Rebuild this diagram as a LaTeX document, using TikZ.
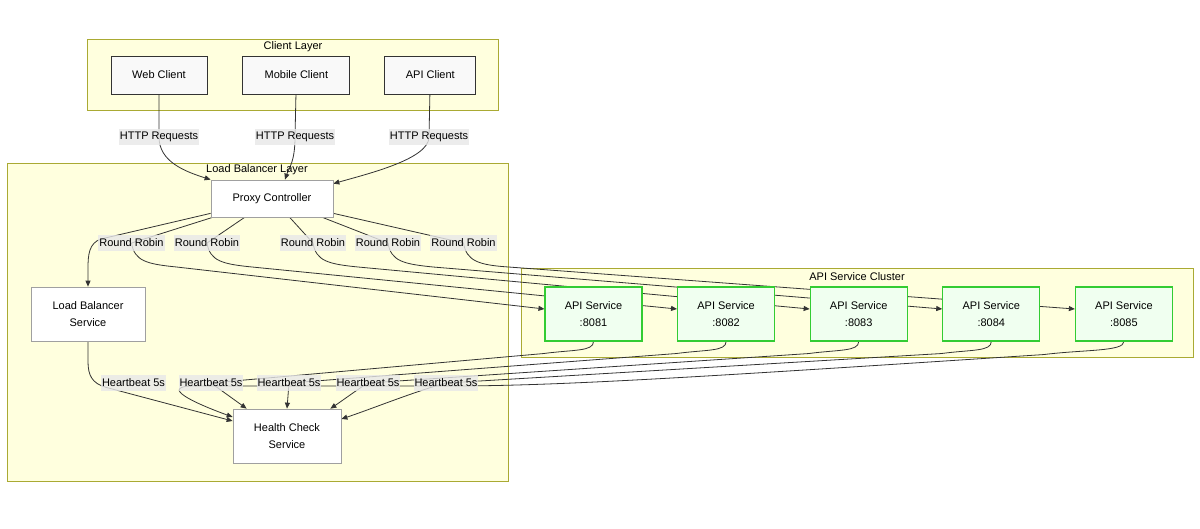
\documentclass[tikz,border=0pt]{standalone}
\usepackage{fontspec}
\setmainfont{Liberation Sans}
\usetikzlibrary{arrows.meta, positioning}
\definecolor{clusterfill}{HTML}{FFFFDE}
\definecolor{clusterline}{HTML}{AAAA33}
\definecolor{clientfill}{HTML}{F9F9F9}
\definecolor{edgegray}{HTML}{333333}
\definecolor{boxline}{HTML}{A0A0A0}
\definecolor{apifill}{HTML}{F0FFF0}
\definecolor{apiline}{HTML}{33CC33}
\definecolor{lblgray}{HTML}{E8E8E8}
\pgfdeclarelayer{bg}
\pgfdeclarelayer{edges}
\pgfsetlayers{bg,edges,main}

\begin{document}
\begin{tikzpicture}[x=1pt, y=-1pt,
        font=\fontsize{11}{16.5}\selectfont,
        cluster/.style={rectangle, draw=clusterline, fill=clusterfill, line width=0.8pt, inner sep=0pt},
        client/.style={rectangle, draw=edgegray, fill=clientfill, line width=0.9pt, inner sep=0pt, minimum height=38pt},
        service/.style={rectangle, draw=boxline, fill=white, line width=0.7pt, align=center, inner sep=0pt, minimum height=54pt},
        api/.style={rectangle, draw=apiline, fill=apifill, line width=1.1pt, align=center, inner sep=0pt, minimum width=97pt, minimum height=54pt},
        lbl/.style={fill=lblgray, fill opacity=0.8, text opacity=1, inner xsep=1pt, inner ysep=0pt, minimum height=16pt},
        arrow/.style={-{Triangle[length=6pt, width=5pt]}, draw=edgegray, line width=0.8pt},
        node distance=35pt
        ]
        \useasboundingbox (0,0) rectangle (1200,529);

        % Groups
        \begin{pgfonlayer}{bg}
        \fill[white] (0,0) rectangle (1200,529);
        \node (clientlayer) [cluster, minimum width=411pt, minimum height=71pt] at (292.5,74.5) {};
        \node (lblayer) [cluster, minimum width=501pt, minimum height=318pt] at (257.5,322) {};
        \node (apicluster) [cluster, minimum width=672pt, minimum height=89pt] at (857,312.5) {};
        \end{pgfonlayer}
        \node (clienttitle) at (293,47) {Client Layer};
        \node (lbtitle) at (257,170) {Load Balancer Layer};
        \node (apititle) at (857,277) {API Service Cluster};

        % Nodes
        \node (web) [client, minimum width=96pt] at (159,75) {Web Client};
        \node (mobile) [client, minimum width=107pt, right=of web] {Mobile Client};
        \node (apiclient) [client, minimum width=91pt, right=34pt of mobile] {API Client};
        \node (proxy) [service, minimum width=122pt, minimum height=37pt] at (272,198.5) {Proxy Controller};
        \node (lbservice) [service, minimum width=114pt] at (88,314) {Load Balancer\\Service};
        \node (health) [service, minimum width=108pt] at (287,436) {Health Check\\Service};
        \node (api1) [api] at (593.5,314) {API Service\\:8081};
        \node (api2) [api, right=34.5pt of api1] {API Service\\:8082};
        \node (api3) [api, right=34.5pt of api2] {API Service\\:8083};
        \node (api4) [api, right=34.5pt of api3] {API Service\\:8084};
        \node (api5) [api, right=34.5pt of api4] {API Service\\:8085};

        % Labels
        \node (http1) [lbl] at (159,137) {HTTP Requests};
        \node (http2) [lbl] at (295,137) {HTTP Requests};
        \node (http3) [lbl] at (429,137) {HTTP Requests};
        \node (rr1) [lbl] at (131.5,243) {Round Robin};
        \node (rr2) [lbl] at (207,243) {Round Robin};
        \node (rr3) [lbl] at (313,243) {Round Robin};
        \node (rr4) [lbl] at (388,243) {Round Robin};
        \node (rr5) [lbl] at (463.5,243) {Round Robin};
        \node (hb1) [lbl] at (133.5,383) {Heartbeat 5s};
        \node (hb2) [lbl] at (211,383) {Heartbeat 5s};
        \node (hb3) [lbl] at (289,383) {Heartbeat 5s};
        \node (hb4) [lbl] at (368,383) {Heartbeat 5s};
        \node (hb5) [lbl] at (446,383) {Heartbeat 5s};

        % Arrows
        \begin{pgfonlayer}{edges}
        \draw [arrow] (web) -- (http1.center) .. controls +(0,25) and +(-25,-8) .. (proxy.north west);
        \draw [arrow] (mobile) -- (http2.center) .. controls +(0,25) and +(4,-12) .. ([xshift=13pt]proxy.north);
        \draw [arrow] (apiclient) -- (http3.center) .. controls +(0,22) and +(35,-10) .. ([yshift=-4pt]proxy.north east);

        \draw [arrow] ([yshift=4pt]proxy.south west) -- (101,239) .. controls (89,243) and (88,255) .. (88,268) -- (lbservice.north);
        \draw [arrow] ([xshift=2pt]proxy.south west) -- (rr1.center) .. controls +(3,18) and +(-30,-3) .. ++(45,24) -- ([yshift=5pt]api1.west);
        \draw [arrow] ([xshift=34pt]proxy.south west) -- (rr2.center) .. controls +(3,18) and +(-30,-3) .. ++(45,24) -- ([yshift=5pt]api2.west);
        \draw [arrow] ([xshift=79pt]proxy.south west) -- (rr3.center) .. controls +(3,18) and +(-30,-3) .. ++(45,24) -- ([yshift=5pt]api3.west);
        \draw [arrow] ([xshift=-11pt]proxy.south east) -- (rr4.center) .. controls +(3,18) and +(-30,-3) .. ++(45,24) -- ([yshift=5pt]api4.west);
        \draw [arrow] ([yshift=4pt]proxy.south east) -- (rr5.center) .. controls +(3,18) and +(-30,-2) .. ++(45,24) -- ([yshift=5pt]api5.west);

        \draw [arrow] (lbservice.south) -- ++(0,20) .. controls +(0,14) and +(-14,-4) .. ++(18,26) -- ([yshift=15pt]health.west);
        \draw [arrow] (api1.south) .. controls +(0,10) and +(30,-4) .. ++(-50,12) -- (hb2.center) -- ([xshift=14pt]health.north west);
        \draw [arrow] (api2.south) .. controls +(0,10) and +(30,-4) .. ++(-50,12) -- (hb3.center) -- (health.north);
        \draw [arrow] (api3.south) .. controls +(0,10) and +(30,-4) .. ++(-50,12) -- (hb4.center) .. controls +(-10,6) and +(12,-8) .. ([xshift=-11pt]health.north east);
        \draw [arrow] (api4.south) .. controls +(0,10) and +(30,-4) .. ++(-50,12) -- (hb5.center) .. controls +(-30,8) and +(30,-10) .. ([yshift=17pt]health.east);
        \draw [arrow] (api5.south) .. controls +(0,10) and +(40,-5) .. ++(-80,13) .. controls (700,377) and (560,386) .. (450,386) -- (190,386) .. controls (158,388) and (205,407) .. ([yshift=19pt]health.west);
        \end{pgfonlayer}

    \end{tikzpicture}
\end{document}
